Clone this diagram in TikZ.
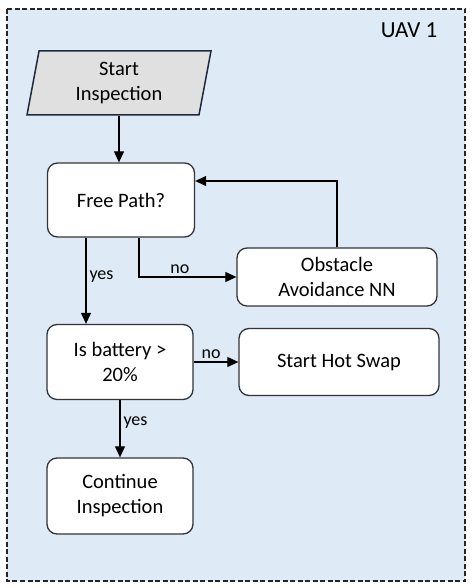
\documentclass[tikz,border=0pt]{standalone}
\usepackage{fontspec}
\setmainfont{Carlito}
\usetikzlibrary{arrows.meta,shapes.geometric}

\definecolor{uavblue}{RGB}{222,235,247}
\definecolor{startgray}{RGB}{224,224,224}
\definecolor{boxline}{RGB}{52,52,56}
\definecolor{startline}{RGB}{30,40,62}

\tikzset{
  procbox/.style={draw=boxline, line width=1.3pt, fill=white, rounded corners=10pt,
    align=center, font=\fontsize{20.5}{25}\selectfont},
  startbox/.style={draw=startline, line width=1.5pt, fill=startgray, trapezium,
    trapezium left angle=76, trapezium right angle=104, trapezium stretches body,
    minimum width=184pt, minimum height=64pt, align=center,
    font=\fontsize{20.5}{25}\selectfont},
  arr/.style={-{Triangle[length=11pt,width=10pt]}, line width=1.1pt, black},
  lbl/.style={font=\fontsize{18}{21}\selectfont, inner sep=3pt}
}

\begin{document}
\begin{tikzpicture}[x=1pt,y=-1pt]
  \useasboundingbox (0,0) rectangle (474,588);

  % UAV frame
  \draw[fill=uavblue, line width=1.5pt, dash pattern=on 5pt off 2.5pt, draw=black!85]
    (7,9) rectangle (465,581);
  \node[font=\fontsize{23}{27}\selectfont] (uav) at (409,30) {UAV 1};

  % Nodes
  \node[startbox] (start) at (119,83) {Start\\Inspection};
  \node[procbox, minimum width=147pt, minimum height=74pt] (free) at (121,200) {Free Path?};
  \node[procbox, minimum width=200pt, minimum height=58pt] (obst) at (337,277) {Obstacle\\Avoidance NN};
  \node[procbox, minimum width=146pt, minimum height=75pt] (batt) at (120,362) {Is battery >\\20\%};
  \node[procbox, minimum width=200pt, minimum height=67pt] (swap) at (339,362) {Start Hot Swap};
  \node[procbox, minimum width=146pt, minimum height=76pt] (cont) at (120,496) {Continue\\Inspection};

  % Connectors
  \draw[arr] (start.south) -- (start.south |- free.north);
  \draw[arr] ([xshift=-35pt]free.south) -- node[lbl, right, pos=0.45] {yes} ([xshift=-35pt]free.south |- batt.north);
  \draw[arr] ([xshift=18pt]free.south) |- node[lbl, above, pos=0.71] {no} (obst.west);
  \draw[arr] (obst.north) |- ([yshift=19pt]free.east);
  \draw[arr] (batt.east) -- node[lbl, above, pos=0.39] {no} (swap.west);
  \draw[arr] (batt.south) -- node[lbl, right, pos=0.4] {yes} (cont.north);
\end{tikzpicture}
\end{document}
